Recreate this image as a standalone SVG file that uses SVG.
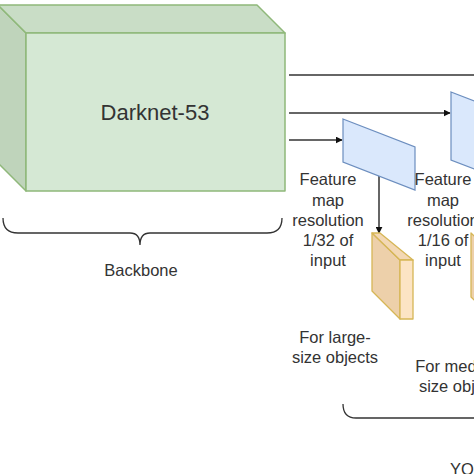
<svg xmlns="http://www.w3.org/2000/svg" width="474" height="474" viewBox="0 0 474 474">
<style>
text{font-family:"Liberation Sans",Arial,sans-serif;fill:#333;text-anchor:middle}
.lbl{font-size:16.5px}
.conn{stroke:#333;stroke-width:1.5;fill:none}
.green{stroke:#8fb87a;stroke-width:1.5;stroke-linejoin:round}
.blue{fill:#dae8fc;stroke:#6c8ebf;stroke-width:1.2}
.org{stroke:#d6b656;stroke-width:1.3;stroke-linejoin:round}
.brace{stroke:#333;stroke-width:1.3;fill:none}
</style>
<defs>
<marker id="arr" viewBox="0 0 10 10" refX="9" refY="5" markerWidth="7" markerHeight="7" markerUnits="userSpaceOnUse" orient="auto">
<path d="M0,0 L10,5 L0,10 z" fill="#111"/>
</marker>
</defs>
<rect width="474" height="474" fill="#fff"/>
<g id="darknet">
<polygon class="green" points="-2,5 26,33 26,191 -2,163" fill="#bfd4bb"/>
<polygon class="green" points="-2,5 257,5 285,33 26,33" fill="#c9ddc6"/>
<rect class="green" x="26" y="33" width="259" height="158" fill="#d5e8d4"/>
<text x="155" y="120" style="font-size:22px">Darknet-53</text>
</g>
<g id="connectors">
<line class="conn" x1="289" y1="75" x2="474" y2="75"/>
<line class="conn" x1="289" y1="113" x2="450" y2="113" marker-end="url(#arr)"/>
<line class="conn" x1="289" y1="140" x2="342" y2="140" marker-end="url(#arr)"/>
<line class="conn" x1="379" y1="176" x2="379" y2="233" marker-end="url(#arr)"/>
</g>
<g id="fmap32">
<polygon class="blue" points="343,119 415,147 415,190 343,162"/>
</g>
<g id="fmap16">
<polygon class="blue" points="451,92 541,127 541,195 451,160"/>
</g>
<g id="out-large">
<polygon class="org" points="372,233 400,260 400,319 372,291" fill="#edd0aa"/>
<polygon class="org" points="372,233 380,233 413,260 400,260" fill="#f3d8b4"/>
<rect class="org" x="400" y="260" width="13" height="59" fill="#fce4c4"/>
</g>
<g id="out-medium">
<polygon class="org" points="471,233 505,266 505,330 471,297" fill="#edd0aa"/>
</g>
<g id="label-32">
<text class="lbl" x="328" y="185">Feature</text>
<text class="lbl" x="328" y="206">map</text>
<text class="lbl" x="328" y="226">resolution</text>
<text class="lbl" x="328" y="246">1/32 of</text>
<text class="lbl" x="328" y="266">input</text>
</g>
<g id="label-16">
<text class="lbl" x="443" y="185">Feature</text>
<text class="lbl" x="443" y="206">map</text>
<text class="lbl" x="443" y="226">resolution</text>
<text class="lbl" x="443" y="246">1/16 of</text>
<text class="lbl" x="443" y="266">input</text>
</g>
<g id="label-large">
<text class="lbl" x="335" y="343">For large-</text>
<text class="lbl" x="335" y="363">size objects</text>
</g>
<g id="label-medium">
<text class="lbl" x="462" y="372">For medium-</text>
<text class="lbl" x="462" y="392">size objects</text>
</g>
<g id="backbone">
<path class="brace" d="M3,218 Q3,233 18,233 L130,233 Q140,233 140,245 Q140,233 150,233 L267,233 Q282,233 282,218"/>
<text class="lbl" x="141" y="276">Backbone</text>
</g>
<g id="yolo">
<path class="brace" d="M343,404 Q343,418 356,418 L480,418"/>
<text class="lbl" x="450" y="475" style="text-anchor:start">YOLO</text>
</g>
</svg>
